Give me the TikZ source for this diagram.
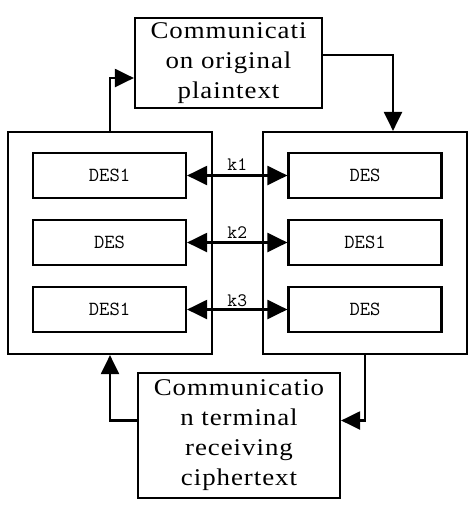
\documentclass[tikz,border=0pt]{standalone}
\usepackage{fontspec}
\setmainfont{Liberation Serif}[FakeStretch=1.12,LetterSpace=4]
\usetikzlibrary{arrows.meta}
\begin{document}
\begin{tikzpicture}[x=1pt,y=-1pt,
  box/.style={draw,line width=2.2pt,inner sep=0pt,align=center},
  bigtext/.style={font=\fontsize{24}{30}\selectfont},
  desbox/.style={box,minimum width=153pt,minimum height=45pt,font=\fontsize{20}{22}\ttfamily},
  frame/.style={box,minimum width=204pt,minimum height=222pt},
  arr/.style={line width=2.2pt,-{Triangle[length=19pt,width=18pt]}},
  darr/.style={line width=2.2pt,{Triangle[length=20pt,width=19pt]}-{Triangle[length=20pt,width=19pt]}},
  klabel/.style={font=\fontsize{19}{20}\ttfamily,inner sep=0pt}]
\useasboundingbox (0,0) rectangle (474,520);
\node[frame] (L) at (110,243) {};
\node[frame] (R) at (365,243) {};
\node[desbox] (l1) at (109.5,175.5) {DES1};
\node[desbox] (l2) at (109.5,242.5) {DES};
\node[desbox] (l3) at (109.5,309.5) {DES1};
\node[desbox] (r1) at (365,175.5) {DES};
\node[desbox] (r2) at (365,242.5) {DES1};
\node[desbox] (r3) at (365,309.5) {DES};
\node[box,bigtext,minimum width=187pt,minimum height=90pt] (T) at (228.5,63) {Communicati\\on original\\plaintext};
\node[box,bigtext,minimum width=202pt,minimum height=125pt] (B) at (239,435.5) {Communicatio\\n terminal\\receiving\\ciphertext};
\draw[darr] (l1.east) -- node[klabel,above=4pt] {k1} (r1.west);
\draw[darr] (l2.east) -- node[klabel,above=3pt] {k2} (r2.west);
\draw[darr] (l3.east) -- node[klabel,above=2pt] {k3} (r3.west);
\draw[arr] (L.north) |- ([yshift=-15pt]T.west);
\draw[arr] ([yshift=8pt]T.east) -| ([xshift=28pt]R.north);
\draw[arr] (R.south) |- ([yshift=15pt]B.east);
\draw[arr] ([yshift=15pt]B.west) -| (L.south);
\end{tikzpicture}
\end{document}
